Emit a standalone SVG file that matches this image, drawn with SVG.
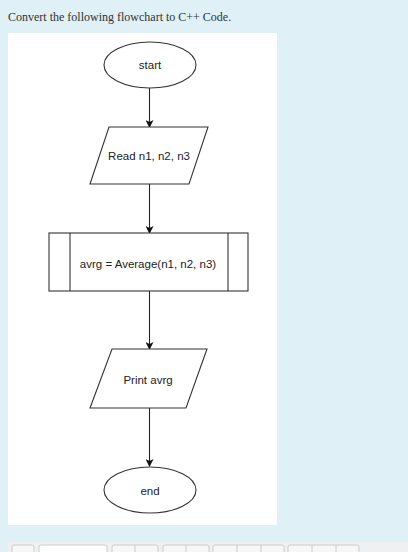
<svg xmlns="http://www.w3.org/2000/svg" width="408" height="552" viewBox="0 0 408 552">
<style>
.shape{fill:#fff;stroke:#333;stroke-width:1.1}
.lbl{font-family:"Liberation Sans",Arial,sans-serif;font-size:11.5px;fill:#222;text-anchor:middle;dominant-baseline:central}
.conn{stroke:#222;stroke-width:1.1;fill:none}
.tb{fill:#f7f7f7;stroke:#ccc;stroke-width:1}
</style>
<defs>
<marker id="arr" markerWidth="8" markerHeight="8" refX="7" refY="4" orient="auto" markerUnits="userSpaceOnUse">
<path d="M0,0 L8,4 L0,8 L2,4 Z" fill="#111"/>
</marker>
</defs>
<rect x="0" y="0" width="408" height="552" fill="#dff0f7"/>
<text x="8" y="21" font-family="Liberation Serif,'Times New Roman',serif" font-size="12" fill="#333">Convert the following flowchart to C++ Code.</text>
<rect x="8" y="33" width="269" height="492" fill="#fff"/>
<g id="connectors">
<line class="conn" x1="149.5" y1="88" x2="149.5" y2="127" marker-end="url(#arr)"/>
<line class="conn" x1="149.5" y1="184" x2="149.5" y2="233" marker-end="url(#arr)"/>
<line class="conn" x1="149.5" y1="291" x2="149.5" y2="349" marker-end="url(#arr)"/>
<line class="conn" x1="149.5" y1="408" x2="149.5" y2="466" marker-end="url(#arr)"/>
</g>
<g id="start">
<ellipse class="shape" cx="150" cy="65" rx="46" ry="23"/>
<text class="lbl" x="150" y="65">start</text>
</g>
<g id="read">
<polygon class="shape" points="109,127 208,127 189,184 90,184"/>
<text class="lbl" x="149" y="156">Read n1, n2, n3</text>
</g>
<g id="avg">
<rect class="shape" x="49" y="233" width="199" height="58"/>
<line class="shape" x1="70" y1="233" x2="70" y2="291"/>
<line class="shape" x1="228" y1="233" x2="228" y2="291"/>
<text class="lbl" x="148" y="264">avrg = Average(n1, n2, n3)</text>
</g>
<g id="print">
<polygon class="shape" points="112,349 207,349 186,408 90,408"/>
<text class="lbl" x="148" y="380">Print avrg</text>
</g>
<g id="end">
<ellipse class="shape" cx="150" cy="490" rx="46" ry="23"/>
<text class="lbl" x="150" y="491">end</text>
</g>
<g id="toolbar">
<rect x="8" y="542" width="400" height="12" fill="#eef0f1"/>
<rect class="tb" x="12" y="545" width="22" height="12" rx="2"/>
<rect x="39" y="545" width="68" height="12" rx="2" fill="#fff" stroke="#ccc"/>
<rect class="tb" x="112" y="545" width="46" height="12" rx="2"/>
<line x1="135" y1="545" x2="135" y2="552" stroke="#ccc"/>
<rect class="tb" x="163" y="545" width="46" height="12" rx="2"/>
<line x1="186" y1="545" x2="186" y2="552" stroke="#ccc"/>
<rect class="tb" x="213" y="545" width="71" height="12" rx="2"/>
<line x1="237" y1="545" x2="237" y2="552" stroke="#ccc"/>
<line x1="261" y1="545" x2="261" y2="552" stroke="#ccc"/>
<rect class="tb" x="288" y="545" width="71" height="12" rx="2"/>
<line x1="312" y1="545" x2="312" y2="552" stroke="#ccc"/>
<line x1="336" y1="545" x2="336" y2="552" stroke="#ccc"/>
</g>
</svg>
